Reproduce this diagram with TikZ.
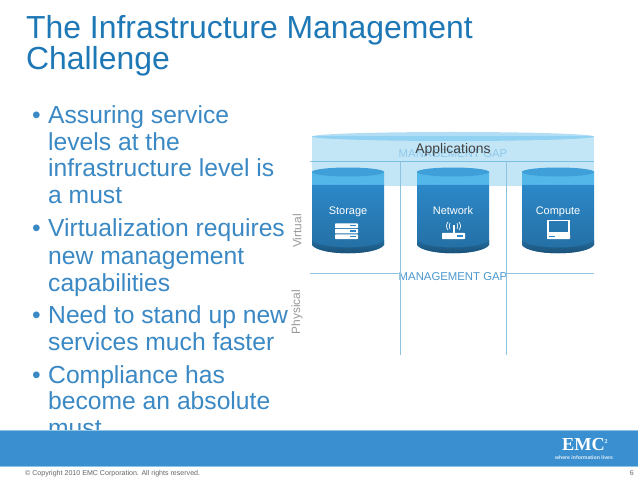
\documentclass[tikz,border=0pt]{standalone}
\usepackage{fontspec}
\setmainfont{Liberation Sans}
\newfontfamily\logofont{Liberation Serif}
\definecolor{titleblue}{HTML}{1E78B6}
\definecolor{emcblue}{HTML}{3A88C4}
\definecolor{drumblue}{HTML}{2C88C8}
\definecolor{barblue}{HTML}{398FD0}
\definecolor{gridblue}{HTML}{8FC3E0}
\definecolor{lidblue}{HTML}{3F9FD8}
\definecolor{bandblue}{HTML}{55B8EA}
\definecolor{gapblue}{HTML}{4A98CE}
\tikzset{
	title/.style={anchor=base west,inner sep=0pt,text=titleblue,font=\fontsize{32}{32}\selectfont},
	bodyline/.style={anchor=base west,inner sep=0pt,text=emcblue,font=\fontsize{24.75}{25}\selectfont},
	gap/.style={inner sep=0pt,text=gapblue,font=\fontsize{11.4}{12}\selectfont},
	layer/.style={inner sep=0pt,rotate=90,text=black!40,font=\fontsize{12}{12}\selectfont},
	drum/.style={anchor=base,inner sep=0pt,text=white,font=\fontsize{11}{11}\selectfont},
	rule/.style={gridblue,line width=0.7bp},
	icon/.style={fill=white,rounded corners=0.6bp}
}
\begin{document}
\begin{tikzpicture}[x=1bp,y=-1bp]
	\useasboundingbox (0,0) rectangle (638,478);
	\fill[white] (0,0) rectangle (638,478);
	% title
	\node[title] (title1) at (26,39) {The Infrastructure Management};
	\node[title] (title2) at (26,70) {Challenge};
	% bullets
	\foreach \y/\t in {124/Assuring service,151/levels at the,177/infrastructure level is,204/a must,237/Virtualization requires,264/new management,291/capabilities,323/Need to stand up new,350/services much faster,383/Compliance has,409/become an absolute,436/must}
		\node[bodyline] (line\y) at (48,\y) {\t};
	\foreach \y in {124,237,323,383}
		\node[bodyline] (dot\y) at (32,\y) {•};
	% grid behind the drums
	\coordinate (hightop) at (310,161);
	\coordinate (highend) at (594,161);
	\coordinate (lowleft) at (310,273);
	\coordinate (lowend) at (594,273);
	\coordinate (vone) at (400,161);
	\coordinate (vonee) at (400,355);
	\coordinate (vtwo) at (506,161);
	\coordinate (vtwoe) at (506,355);
	\draw[rule] (hightop) -- (highend);
	\draw[rule] (lowleft) -- (lowend);
	\node[gap,opacity=0.45] (gaptop) at (453,154) {MANAGEMENT GAP};
	\node[gap,fill=white] (gaplow) at (453,277) {MANAGEMENT GAP};
	% applications
	\fill[bandblue,opacity=0.35] (312,136) -- (312,186) -- (594,186) -- (594,136) -- cycle;
	\fill[bandblue,opacity=0.45] (453,136.5) ellipse (141 and 4.5);
	\node[inner sep=0pt,text=black!75,font=\fontsize{14}{14}\selectfont] (apps) at (453,150) {Applications};
	% drums
	\foreach \x/\name/\label in {312/storage/Storage,417/network/Network,522/compute/Compute}{
		\shade[top color=bandblue!90!lidblue,bottom color=bandblue] (\x,172) rectangle (\x+72,185);
		\shade[top color=drumblue,bottom color=drumblue!80!black] (\x,185) -- (\x,245)
			.. controls (\x+8,256) and (\x+64,256) .. (\x+72,245) -- (\x+72,185) -- cycle;
		\shade[top color=drumblue!80!black,bottom color=drumblue!55!black] (\x,240) -- (\x,245)
			.. controls (\x+8,256) and (\x+64,256) .. (\x+72,245) -- (\x+72,240)
			.. controls (\x+64,250) and (\x+8,250) .. (\x,240) -- cycle;
		\fill[lidblue] (\x+36,172) ellipse (36 and 4.5);
		\node[drum] (\name) at (\x+36,215) {\label};
	}
	% uprights
	\draw[rule] (vone) -- (vonee);
	\draw[rule] (vtwo) -- (vtwoe);
	% storage icon
	\foreach \y in {223.5,229,234.5}{
		\fill[icon] (335,\y) rectangle (358,\y+4.5);
		\fill[drumblue] (350,\y+1.5) rectangle (356,\y+2.8);
	}
	% network icon
	\fill[icon] (442,233) rectangle (465,239);
	\fill[drumblue] (457,235.3) rectangle (463,236.7);
	\fill[white] (452.5,225) rectangle (454.5,233);
	\draw[white,line width=0.7bp] (450,223) .. controls (449,225) and (449,227) .. (450,229);
	\draw[white,line width=0.7bp] (457,223) .. controls (458,225) and (458,227) .. (457,229);
	\draw[white,line width=0.7bp] (448,222) .. controls (446,225) and (446,227) .. (448,230);
	\draw[white,line width=0.7bp] (459,222) .. controls (461,225) and (461,227) .. (459,230);
	% compute icon
	\draw[white,line width=1.2bp] (548,220.5) rectangle (569,233);
	\fill[icon] (547,234) rectangle (570,239);
	\fill[drumblue] (549,236) rectangle (555,237.2);
	% side labels
	\node[layer] (virtual) at (297,231) {Virtual};
	\node[layer] (physical) at (297,312) {Physical};
	% footer
	\fill[barblue] (0,430) rectangle (638,466);
	\draw[gridblue,line width=0.6bp] (0,430) -- (638,430);
	\draw[gridblue,line width=0.6bp] (0,466) -- (638,466);
	\node[anchor=base,inner sep=0pt,text=white,font=\logofont\bfseries\fontsize{18.4}{18}\selectfont] (emc) at (583.5,450) {EMC};
	\node[anchor=base west,inner sep=0pt,text=white,font=\logofont\bfseries\fontsize{6}{6}\selectfont] (squared) at (604.5,443) {2};
	\node[anchor=base,inner sep=0pt,text=white!85!barblue,font=\bfseries\fontsize{5.2}{5}\selectfont] (tagline) at (584,459) {where information lives};
	\node[anchor=base west,inner sep=0pt,text=black!60,font=\fontsize{7.1}{7}\selectfont] (copyright) at (25,475) {© Copyright 2010 EMC Corporation. All rights reserved.};
	\node[anchor=base east,inner sep=0pt,text=black!60,font=\fontsize{7.1}{7}\selectfont] (page) at (634,475) {6};
\end{tikzpicture}
\end{document}
